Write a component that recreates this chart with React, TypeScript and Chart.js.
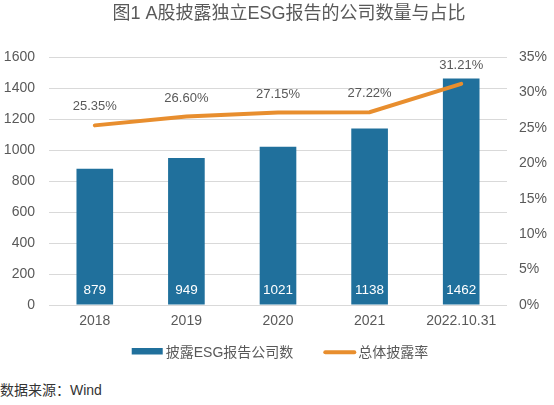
import { useEffect, useRef } from "react"
import { Chart, registerables, Plugin } from "chart.js"

Chart.register(...registerables)

const FONT = '"Liberation Sans", "Noto Sans CJK SC", sans-serif'

const categories = ["2018", "2019", "2020", "2021", "2022.10.31"]
const companyCounts = [879, 949, 1021, 1138, 1462]
const disclosureRates = [25.35, 26.6, 27.15, 27.22, 31.21]
const titleText = "图1 A股披露独立ESG报告的公司数量与占比"
const barLabel = "披露ESG报告公司数"
const lineLabel = "总体披露率"
const sourceText = "数据来源：Wind"

const BAR_COLOR = "#20709C"
const LINE_COLOR = "#E88E2E"
const TEXT_COLOR = "#595959"

// draws the title, value labels and the legend row on the canvas
const extrasPlugin: Plugin<"bar"> = {
  id: "extras",
  afterDatasetsDraw(chart) {
    const ctx = chart.ctx
    ctx.save()

    // title
    ctx.font = `18px ${FONT}`
    ctx.fillStyle = TEXT_COLOR
    ctx.textAlign = "center"
    ctx.textBaseline = "middle"
    ctx.fillText(titleText, 289, 14)

    // bar values
    const barMeta = chart.getDatasetMeta(0)
    ctx.font = `13.5px ${FONT}`
    ctx.fillStyle = "#ffffff"
    barMeta.data.forEach((el: any, i) => {
      ctx.fillText(String(companyCounts[i]), el.x, el.base - 14.5)
    })

    // line values
    const lineMeta = chart.getDatasetMeta(1)
    ctx.font = `13px ${FONT}`
    ctx.fillStyle = TEXT_COLOR
    lineMeta.data.forEach((el: any, i) => {
      ctx.fillText(disclosureRates[i].toFixed(2) + "%", el.x, el.y - 18.5)
    })

    // legend
    ctx.font = `14px ${FONT}`
    ctx.textAlign = "left"
    const w1 = ctx.measureText(barLabel).width
    const w2 = ctx.measureText(lineLabel).width
    const total = 31 + 3 + w1 + 30 + 33 + 2 + w2
    let x = 280 - total / 2
    const y = 353
    ctx.fillStyle = BAR_COLOR
    ctx.fillRect(x, 348, 31, 6.5)
    x += 34
    ctx.fillStyle = TEXT_COLOR
    ctx.fillText(barLabel, x, y)
    x += w1 + 30
    ctx.strokeStyle = LINE_COLOR
    ctx.lineWidth = 4
    ctx.lineCap = "round"
    ctx.beginPath()
    ctx.moveTo(x + 2, 352.3)
    ctx.lineTo(x + 31, 352.3)
    ctx.stroke()
    x += 35
    ctx.fillText(lineLabel, x, y)

    ctx.restore()
  },
}

// fixed axis sizes, no extra overflow padding
const fixSize = (size: number) => (s: any) => {
  if (s.isHorizontal()) s.height = size
  else s.width = size
  s.paddingLeft = 0
  s.paddingRight = 0
  s.paddingTop = 0
  s.paddingBottom = 0
}

export default function App() {
  const canvasRef = useRef<HTMLCanvasElement | null>(null)
  const chartRef = useRef<Chart | null>(null)

  useEffect(() => {
    if (!canvasRef.current) return
    if (chartRef.current) chartRef.current.destroy()

    chartRef.current = new Chart(canvasRef.current, {
      type: "bar",
      data: {
        labels: categories,
        datasets: [
          {
            type: "bar",
            label: barLabel,
            data: companyCounts,
            backgroundColor: BAR_COLOR,
            barPercentage: 0.8,
            categoryPercentage: 0.5,
            yAxisID: "y",
            order: 1,
          },
          {
            type: "line",
            label: lineLabel,
            data: disclosureRates,
            borderColor: LINE_COLOR,
            backgroundColor: LINE_COLOR,
            borderWidth: 4,
            borderCapStyle: "round",
            tension: 0,
            pointRadius: 0,
            yAxisID: "y1",
            order: 0,
          } as any,
        ],
      },
      options: {
        animation: false,
        responsive: true,
        maintainAspectRatio: false,
        layout: { autoPadding: false, padding: { top: 57, bottom: 50, left: 4, right: 7 } },
        plugins: {
          legend: { display: false },
          title: { display: false },
          tooltip: { enabled: false },
        },
        scales: {
          x: {
            grid: { display: false, drawTicks: false },
            border: { display: false },
            ticks: { color: TEXT_COLOR, font: { size: 14, family: FONT }, padding: 8, maxRotation: 0 },
            afterFit: fixSize(25),
          },
          y: {
            position: "left",
            min: 0,
            max: 1600,
            ticks: {
              stepSize: 200,
              color: TEXT_COLOR,
              font: { size: 14, family: FONT },
              padding: 14,
              callback: (v) => String(v),
            },
            grid: { color: "#D9D9D9", lineWidth: 1, drawTicks: false },
            border: { display: false },
            afterFit: fixSize(45),
          },
          y1: {
            position: "right",
            min: 0,
            max: 35,
            ticks: {
              stepSize: 5,
              color: TEXT_COLOR,
              font: { size: 14, family: FONT },
              padding: 12,
              callback: (v) => v + "%",
            },
            grid: { display: false, drawTicks: false },
            border: { display: false },
            afterFit: fixSize(40),
          },
        },
      },
      plugins: [extrasPlugin as any],
    })

    return () => {
      if (chartRef.current) {
        chartRef.current.destroy()
        chartRef.current = null
      }
    }
  }, [])

  return (
    <div style={{ position: "fixed", left: 0, top: 0, width: 554, height: 405, background: "#fff" }}>
      <div style={{ position: "absolute", left: 0, top: 0, width: 554, height: 380 }}>
        <canvas ref={canvasRef} />
      </div>
      <div
        style={{
          position: "absolute",
          left: 0,
          top: 381,
          fontFamily: FONT,
          fontSize: 14,
          lineHeight: "18px",
          color: "#333",
        }}
      >
        {sourceText}
      </div>
    </div>
  )
}
